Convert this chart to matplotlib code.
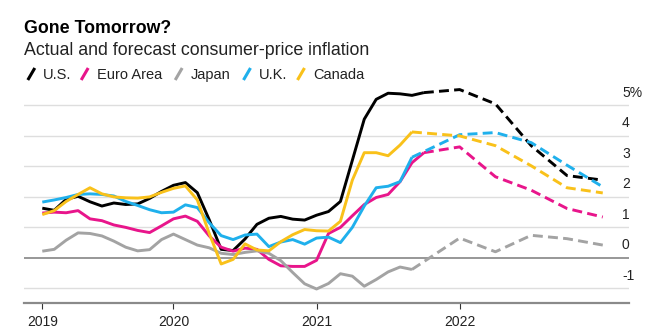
import matplotlib
matplotlib.use('Agg')
import matplotlib.pyplot as plt
from matplotlib.lines import Line2D
from matplotlib.transforms import ScaledTranslation

# Monthly actuals, month 0 = Jan 2019
us_actual = [1.63, 1.56, 1.92, 2.02, 1.84, 1.7, 1.8, 1.75, 1.77, 1.95, 2.18, 2.38,
             2.47, 2.14, 1.25, 0.28, 0.24, 0.62, 1.1, 1.3, 1.36, 1.27, 1.24, 1.4,
             1.52, 1.85, 3.2, 4.55, 5.2, 5.4, 5.38, 5.33, 5.42]
euro_actual = [1.47, 1.5, 1.48, 1.55, 1.28, 1.22, 1.08, 1.0, 0.9, 0.83, 1.05, 1.28,
               1.37, 1.2, 0.72, 0.35, 0.22, 0.32, 0.28, -0.05, -0.26, -0.28, -0.28, -0.08,
               0.8, 1.0, 1.38, 1.75, 1.98, 2.08, 2.5, 3.12, 3.45]
japan_actual = [0.22, 0.28, 0.58, 0.82, 0.8, 0.72, 0.55, 0.35, 0.23, 0.27, 0.6, 0.78,
                0.6, 0.42, 0.33, 0.15, 0.11, 0.18, 0.23, 0.15, -0.09, -0.48, -0.85, -1.02,
                -0.84, -0.52, -0.6, -0.93, -0.71, -0.46, -0.3, -0.38]
uk_actual = [1.83, 1.9, 1.98, 2.08, 2.1, 2.08, 2.03, 1.85, 1.72, 1.58, 1.48, 1.5,
             1.74, 1.65, 1.15, 0.73, 0.6, 0.75, 0.78, 0.37, 0.52, 0.6, 0.45, 0.65,
             0.68, 0.5, 1.0, 1.7, 2.3, 2.35, 2.5, 3.3]
canada_actual = [1.42, 1.55, 1.85, 2.08, 2.3, 2.1, 2.0, 1.97, 1.96, 2.0, 2.15, 2.28,
                 2.36, 1.9, 0.8, -0.2, -0.05, 0.46, 0.26, 0.23, 0.53, 0.76, 0.93, 0.89,
                 0.88, 1.2, 2.55, 3.45, 3.45, 3.35, 3.7, 4.13]

# Quarterly forecasts (Dec 2021 ... Dec 2022)
forecast_months = [35, 38, 41, 44, 47]
us_forecast = [5.52, 5.05, 3.68, 2.7, 2.55]
euro_forecast = [3.64, 2.66, 2.22, 1.62, 1.34]
japan_forecast = [0.65, 0.2, 0.74, 0.63, 0.42]
uk_forecast = [4.04, 4.11, 3.78, 3.04, 2.33]
canada_forecast = [4.0, 3.68, 3.02, 2.3, 2.13]

year_ticks = [0, 11, 23, 35]
year_labels = ['2019', '2020', '2021', '2022']
pct_ticks = [-1, 0, 1, 2, 3, 4, 5]
pct_labels = ['-1', '0', '1', '2', '3', '4', '5%']

series = [
    ('U.S.', us_actual, us_forecast, '#000000'),
    ('Euro Area', euro_actual, euro_forecast, '#e8158b'),
    ('Japan', japan_actual, japan_forecast, '#a3a3a3'),
    ('U.K.', uk_actual, uk_forecast, '#1fb0ec'),
    ('Canada', canada_actual, canada_forecast, '#f9c11a'),
]

plt.rcParams['font.family'] = ['Liberation Sans', 'DejaVu Sans']

W, H = 660, 335
fig = plt.figure(figsize=(W / 100, H / 100), dpi=100)
ax = fig.add_axes([24.4 / W, (H - 302.7) / H, (629 - 24.4) / W, (302.7 - 85) / H])
ax.set_xlim(-1.5, 49.2)
ax.set_ylim(-1.47, 5.67)

for y in pct_ticks:
    if y == 0:
        ax.axhline(y, color='#7a7a7a', lw=1.1, zorder=1)
    else:
        ax.axhline(y, color='#dedede', lw=1.0, zorder=1)

for i, (name, actual, fc, color) in enumerate(series):
    xs = list(range(len(actual)))
    ax.plot(xs, actual, color=color, lw=2.1, solid_joinstyle='round',
            solid_capstyle='butt', zorder=3 + i)
    fx = [xs[-1]] + forecast_months
    fy = [actual[-1]] + fc
    ax.plot(fx, fy, color=color, lw=2.1, linestyle=(0, (3.4, 1.8)),
            dash_joinstyle='round', zorder=3 + i)

for side in ['top', 'left', 'right']:
    ax.spines[side].set_visible(False)
ax.spines['bottom'].set_color('#8a8a8a')
ax.spines['bottom'].set_linewidth(1.6)

ax.set_xticks(year_ticks, year_labels)
ax.tick_params(axis='x', length=4.5, width=0.8, color='#333333', pad=4.5,
               labelsize=10, labelcolor='#222222')

ax.yaxis.tick_right()
ax.set_yticks(pct_ticks, pct_labels)
ax.tick_params(axis='y', length=0, pad=0, labelsize=10, labelcolor='#222222')
shift = ScaledTranslation(-7 / 100, 14 / 100, fig.dpi_scale_trans)
for lbl in ax.get_yticklabels():
    lbl.set_horizontalalignment('left')
    lbl.set_transform(lbl.get_transform() + shift)

# Titles
fig.text(24 / W, 1 - 33 / H, 'Gone Tomorrow?', fontsize=12.8, fontweight='bold',
         va='baseline', ha='left', color='#000000')
fig.text(24 / W, 1 - 55 / H, 'Actual and forecast consumer-price inflation',
         fontsize=12.8, va='baseline', ha='left', color='#222222')

# Legend with slash markers
legend_x = [43.3, 96.7, 190.7, 259, 313]
for (name, _, _, color), tx in zip(series, legend_x):
    cx = tx - 12
    fig.add_artist(Line2D([(cx - 3.5) / W, (cx + 3.5) / W],
                          [1 - 80 / H, 1 - 68 / H],
                          transform=fig.transFigure, color=color, lw=2.2,
                          solid_capstyle='butt'))
    fig.text(tx / W, 1 - 79.3 / H, name, fontsize=10.5, va='baseline',
             ha='left', color='#222222')

fig.savefig('out.png', dpi=100)
